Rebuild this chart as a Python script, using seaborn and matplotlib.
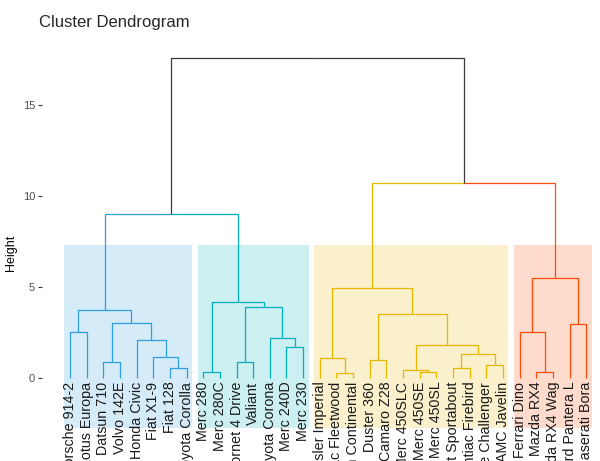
import seaborn as sns
import matplotlib
matplotlib.use("Agg")
from matplotlib import pyplot as plt
from matplotlib.patches import Rectangle

# leaf labels in display order
labels = ["Porsche 914-2", "Lotus Europa", "Datsun 710", "Volvo 142E", "Honda Civic",
          "Fiat X1-9", "Fiat 128", "Toyota Corolla", "Merc 280", "Merc 280C",
          "Hornet 4 Drive", "Valiant", "Toyota Corona", "Merc 240D", "Merc 230",
          "Chrysler Imperial", "Cadillac Fleetwood", "Lincoln Continental", "Duster 360",
          "Camaro Z28", "Merc 450SLC", "Merc 450SE", "Merc 450SL", "Hornet Sportabout",
          "Pontiac Firebird", "Dodge Challenger", "AMC Javelin", "Ferrari Dino",
          "Mazda RX4", "Mazda RX4 Wag", "Ford Pantera L", "Maserati Bora"]

# merges: (node, left, right, height)
merges = [
    ("b1", "Porsche 914-2", "Lotus Europa", 2.51),
    ("b2", "Datsun 710", "Volvo 142E", 0.90),
    ("b3", "Fiat 128", "Toyota Corolla", 0.53),
    ("b4", "Fiat X1-9", "b3", 1.17),
    ("b5", "Honda Civic", "b4", 2.09),
    ("b6", "b2", "b5", 3.00),
    ("B", "b1", "b6", 3.74),
    ("c1", "Merc 280", "Merc 280C", 0.35),
    ("c2", "Hornet 4 Drive", "Valiant", 0.90),
    ("c3", "Merc 240D", "Merc 230", 1.72),
    ("c4", "Toyota Corona", "c3", 2.18),
    ("c5", "c2", "c4", 3.92),
    ("C", "c1", "c5", 4.19),
    ("y1", "Cadillac Fleetwood", "Lincoln Continental", 0.26),
    ("y2", "Chrysler Imperial", "y1", 1.08),
    ("y3", "Duster 360", "Camaro Z28", 1.02),
    ("y4", "Merc 450SE", "Merc 450SL", 0.33),
    ("y5", "Merc 450SLC", "y4", 0.42),
    ("y6", "Hornet Sportabout", "Pontiac Firebird", 0.53),
    ("y7", "Dodge Challenger", "AMC Javelin", 0.71),
    ("y8", "y6", "y7", 1.30),
    ("y9", "y5", "y8", 1.81),
    ("y10", "y3", "y9", 3.50),
    ("Y", "y2", "y10", 4.93),
    ("r1", "Mazda RX4", "Mazda RX4 Wag", 0.35),
    ("r2", "Ferrari Dino", "r1", 2.55),
    ("r3", "Ford Pantera L", "Maserati Bora", 2.95),
    ("R", "r2", "r3", 5.48),
    ("BC", "B", "C", 9.0),
    ("YR", "Y", "R", 10.7),
    ("root", "BC", "YR", 17.6),
]

clusters = ["B", "C", "Y", "R"]
cluster_colors = ["#2E9FDF", "#00AFBB", "#E7B800", "#FC4E07"]
cluster_sizes = [8, 7, 12, 5]
rect_top = 7.3
rect_bottom = -2.75

sns.set_theme(style="white")
plt.rcParams['font.family'] = ['Liberation Sans', 'DejaVu Sans']

fig = plt.figure(figsize=(6, 4.61), dpi=100)
ax = fig.add_axes([0.07, 0.0, 0.927, 0.902])

# node positions
xpos = {name: i + 1 for i, name in enumerate(labels)}
ypos = {name: 0.0 for name in labels}
children = {}
for node, l, r, h in merges:
    xpos[node] = (xpos[l] + xpos[r]) / 2
    ypos[node] = h
    children[node] = (l, r)

# colour of each node: cluster colour inside clusters, grey above
node_color = {}
def paint(node, col):
    node_color[node] = col
    if node in children:
        for ch in children[node]:
            paint(ch, col)
for c, col in zip(clusters, cluster_colors):
    paint(c, col)

for node, l, r, h in merges:
    for ch in (l, r):
        col = node_color.get(ch, "#3a3a3a")
        ax.plot([xpos[node], xpos[ch], xpos[ch]], [h, h, ypos[ch]],
                color=col, lw=0.9, solid_capstyle="butt", zorder=3)

# rectangles around clusters
start = 1
for size, col in zip(cluster_sizes, cluster_colors):
    ax.add_patch(Rectangle((start - 0.33, rect_bottom), size - 1 + 0.66,
                           rect_top - rect_bottom, facecolor=col, alpha=0.2,
                           edgecolor="none", zorder=1))
    start += size

# leaf labels run off the bottom edge, as in the original
for name in labels:
    ax.text(xpos[name], -0.2, name, rotation=90, ha="center", va="top",
            fontsize=10.3, color="#1a1a1a", clip_on=False, zorder=4)

ax.set_xlim(-0.68, 32.72)
ax.set_ylim(-4.56, 18.3)
ax.set_xticks([])
ax.set_yticks([0, 5, 10, 15])
ax.tick_params(axis="y", left=True, length=3, width=0.8, color="#333333",
               labelsize=8, labelcolor="#4D4D4D", pad=2)
for s in ax.spines.values():
    s.set_visible(False)
ax.set_ylabel("Height", fontsize=9, color="black", labelpad=4)

fig.text(0.065, 0.952, "Cluster Dendrogram", fontsize=12, ha="left", va="center")

fig.savefig("out.png", dpi=100)
